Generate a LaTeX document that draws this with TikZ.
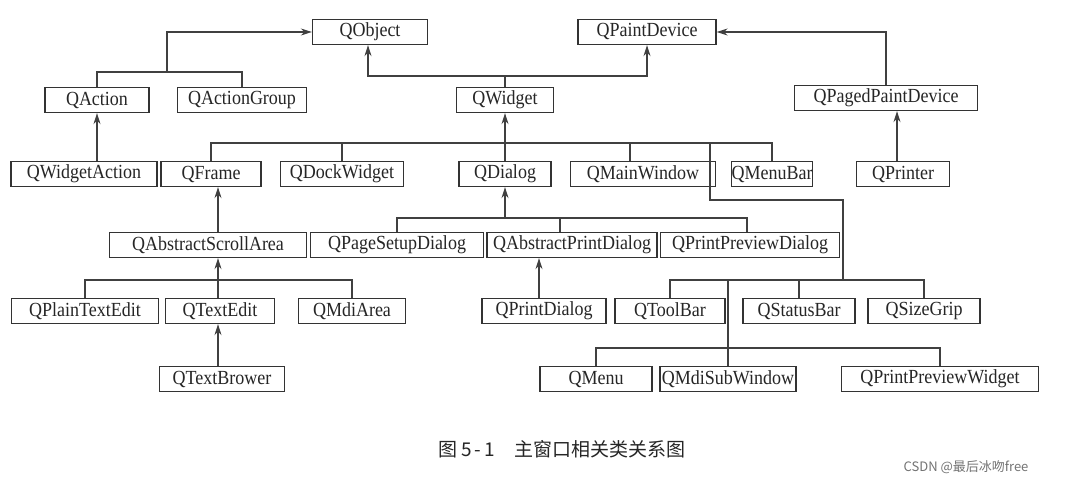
\documentclass[tikz,border=0pt]{standalone}
\usepackage{fontspec}
\setmainfont{Liberation Serif}
\newfontfamily\boxfont[FakeStretch=0.9]{Liberation Serif}
\newfontfamily\cjk{Noto Sans CJK SC}
\usetikzlibrary{arrows.meta}
\begin{document}
\begin{tikzpicture}[x=1pt,y=-1pt,
  box/.style={draw=black!80,line width=1.3pt,minimum height=25pt,inner sep=0pt,font=\boxfont\fontsize{20}{22}\selectfont,text=black!85},
  ln/.style={draw=black!75,line width=1.3pt},
  arr/.style={ln,-{Stealth[length=11pt,width=7pt]}}]
\fill[white] (0,0) rectangle (1084,487);
\useasboundingbox (0,0) rectangle (1084,487);
% row 1
\node[box,minimum width=115pt] (qobj) at (370,32) {QObject};
\node[box,minimum width=138pt] (qpd) at (647,32) {QPaintDevice};
% row 2
\node[box,minimum width=104pt] (qact) at (97,100) {QAction};
\node[box,minimum width=129pt] (qag) at (242,100) {QActionGroup};
\node[box,minimum width=97pt] (qw) at (505,100) {QWidget};
\node[box,minimum width=183pt] (qppd) at (886,98) {QPagedPaintDevice};
% row 3
\node[box,minimum width=146pt] (qwa) at (84,174) {QWidgetAction};
\node[box,minimum width=100pt] (qfr) at (211,174) {QFrame};
\node[box,minimum width=123pt] (qdw) at (342,174) {QDockWidget};
\node[box,minimum width=92pt] (qdl) at (505,174) {QDialog};
\node[box,minimum width=145pt] (qmw) at (643,174) {QMainWindow};
\node[box,minimum width=80pt] (qmb) at (772,174) {QMenuBar};
\node[box,minimum width=93pt] (qpr) at (903,174) {QPrinter};
% row 4
\node[box,minimum width=197pt] (qasa) at (208,245) {QAbstractScrollArea};
\node[box,minimum width=173pt] (qpsd) at (397,245) {QPageSetupDialog};
\node[box,minimum width=170pt] (qapd) at (572,245) {QAbstractPrintDialog};
\node[box,minimum width=179pt] (qppdl) at (750,245) {QPrintPreviewDialog};
% row 5
\node[box,minimum width=147pt] (qpte) at (85,311) {QPlainTextEdit};
\node[box,minimum width=109pt] (qte) at (220,311) {QTextEdit};
\node[box,minimum width=107pt] (qmda) at (352,311) {QMdiArea};
\node[box,minimum width=124pt] (qpdl) at (544,311) {QPrintDialog};
\node[box,minimum width=110pt] (qtb) at (670,311) {QToolBar};
\node[box,minimum width=112pt] (qsb) at (799,311) {QStatusBar};
\node[box,minimum width=112pt] (qsg) at (924,311) {QSizeGrip};
% row 6
\node[box,minimum width=125pt] (qtbr) at (222,379) {QTextBrower};
\node[box,minimum width=112pt] (qmn) at (596,379) {QMenu};
\node[box,minimum width=136pt] (qmsw) at (728,379) {QMdiSubWindow};
\node[box,minimum width=197pt] (qppw) at (940,379) {QPrintPreviewWidget};
% caption
\node[font=\cjk\fontsize{19}{21}\selectfont,text=black!85] (cap) at (562,449) {图\,5\,-\,1\quad 主窗口相关类关系图};
\node[font=\cjk\fontsize{13}{15}\selectfont,text=black!55] (wm) at (966,467) {CSDN @最后冰吻free};
% QObject <- QAction, QActionGroup
\draw[ln] (qact.north) -- (97,72) -- (242,72) -- (qag.north);
\draw[arr] (167,72) |- (qobj.west);
% QObject, QPaintDevice <- QWidget
\draw[ln] (qw.north) -- (505,76);
\draw[arr] (505,76) -| (qobj.south -| 368,0);
\draw[arr] (505,76) -| (qpd.south);
% QPaintDevice <- QPagedPaintDevice
\draw[arr] (qppd.north) |- (qpd.east);
\draw[arr] (qpr.north -| 897,0) -- (qppd.south -| 897,0);
% QAction <- QWidgetAction
\draw[arr] (qwa.north -| qact) -- (qact.south);
% QWidget children
\draw[ln] (qfr.north) -- (211,143) -- (772,143) -- (qmb.north);
\draw[ln] (342,143) -- (qdw.north);
\draw[ln] (630,143) -- (qmw.north -| 630,0);
\draw[arr] (505,143) -- (qw.south);
\draw[ln] (qdl.north) -- (505,143);
\draw[ln] (710,143) -- (710,200) -- (843,200) -- (843,280);
% row5 bus (QMainWindow children)
\draw[ln] (qtb.north) -- (670,280) -- (924,280) -- (qsg.north);
\draw[ln] (799,280) -- (qsb.north);
\draw[ln] (728,280) -- (qmsw.north);
\draw[ln] (qmn.north) -- (596,348) -- (940,348) -- (qppw.north);
% QDialog children
\draw[ln] (qpsd.north) -- (397,218) -- (747,218) -- (qppdl.north -| 747,0);
\draw[ln] (560,218) -- (qapd.north -| 560,0);
\draw[arr] (505,218) -- (qdl.south);
\draw[arr] (qpdl.north -| 539,0) -- (qapd.south -| 539,0);
% QFrame
\draw[arr] (qasa.north -| 218,0) -- (qfr.south -| 218,0);
\draw[ln] (qpte.north) -- (85,280) -- (352,280) -- (qmda.north);
\draw[ln] (qte.north -| 218,0) -- (218,280);
\draw[arr] (218,280) -- (qasa.south -| 218,0);
\draw[arr] (qtbr.north -| 218,0) -- (qte.south -| 218,0);
\end{tikzpicture}
\end{document}
